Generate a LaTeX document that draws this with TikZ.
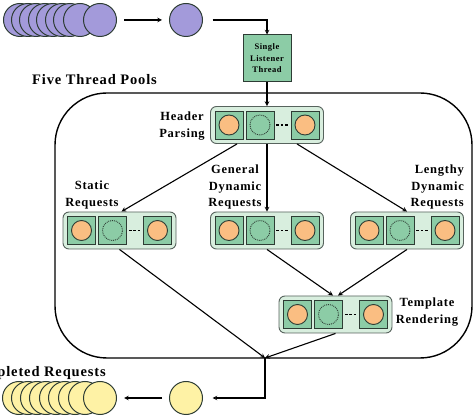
\documentclass[tikz,border=0pt]{standalone}
\usepackage{fontspec}
\setmainfont{Liberation Serif}
\usepackage{tikz}
\usetikzlibrary{positioning}

\definecolor{jobpurple}{RGB}{163,154,218}
\definecolor{doneyellow}{RGB}{254,242,165}
\definecolor{busyorange}{RGB}{250,190,130}
\definecolor{slotgreen}{RGB}{140,204,166}
\definecolor{poolgreen}{RGB}{216,238,222}
\definecolor{edgedark}{RGB}{45,60,52}

\newcommand{\titlefont}{\bfseries\addfontfeature{LetterSpace=6}\fontsize{14.5}{18}\selectfont}
\newcommand{\poolfont}{\bfseries\addfontfeature{LetterSpace=6}\fontsize{12.5}{16.5}\selectfont}
\newcommand{\tinyfont}{\bfseries\addfontfeature{LetterSpace=6}\fontsize{8.5}{11.5}\selectfont}

\tikzset{
  job/.style={circle, draw=edgedark, line width=1pt, fill=jobpurple, minimum size=33pt, inner sep=0pt},
  done/.style={job, fill=doneyellow},
  poolbox/.style={draw=edgedark!80, line width=0.9pt, fill=poolgreen, rounded corners=6pt, minimum width=113pt, minimum height=37pt, inner sep=0pt},
  slot/.style={draw=edgedark, line width=0.9pt, fill=slotgreen, minimum size=28pt, inner sep=0pt},
  busy/.style={circle, draw=edgedark, line width=0.9pt, fill=busyorange, minimum size=20pt, inner sep=0pt},
  idle/.style={circle, draw=edgedark, densely dotted, line width=0.9pt, minimum size=20pt, inner sep=0pt},
  listenerbox/.style={draw=edgedark, line width=1pt, fill=slotgreen, minimum width=48pt, minimum height=47pt, inner sep=0pt, align=center, font=\tinyfont},
  lbl/.style={font=\poolfont, align=center, inner sep=0pt},
  flow/.style={line width=1.1pt, -stealth},
  gap/.style={shorten >=7pt, shorten <=7pt},
  frame/.style={line width=1.4pt, rounded corners=52pt}
}

\newcommand{\pool}[2]{%
  \begin{scope}[shift={(#2)}]
    \node[poolbox] (#1) at (0,0) {};
    \node[slot] (#1-a) at (-38,0) {};
    \node[slot] (#1-b) at (-7,0) {};
    \node[slot] (#1-c) at (38,0) {};
    \node[busy] (#1-ta) at (#1-a) {};
    \node[idle] (#1-tb) at (#1-b) {};
    \node[busy] (#1-tc) at (#1-c) {};
    \draw[line width=1.1pt, dash pattern=on 2.6pt off 1.8pt] ([xshift=2pt]#1-b.east) -- ([xshift=-2pt]#1-c.west);
  \end{scope}}

\begin{document}
\begin{tikzpicture}[x=1pt, y=-1pt]
  \useasboundingbox (0,0) rectangle (474,419);

  % incoming requests
  \foreach \x [count=\i] in {20,28,36,45,53,62,70,80,100}
    \node[job] (in\i) at (\x,20) {};
  \node[job] (req) at (186,20) {};
  \node[listenerbox] (listener) at (267,58.5) {Single\\Listener\\Thread};

  % the thread pools
  \draw[frame] (55,93) rectangle (472,358);
  \node[font=\titlefont, inner sep=0pt, anchor=west] (title) at (32,80) {Five Thread Pools};
  \coordinate (merge) at (265,358);

  \pool{hp}{267,125}
  \pool{sr}{119.5,230.5}
  \pool{gd}{267,230.5}
  \pool{ld}{407,230.5}
  \pool{tr}{335.5,314.5}

  \node[lbl] (hplabel) at (182,126) {Header\\Parsing};
  \node[lbl] (srlabel) at (92,195) {Static\\Requests};
  \node[lbl] (gdlabel) at (235,187) {General\\Dynamic\\Requests};
  \node[lbl, align=right, anchor=east] (ldlabel) at (464,187) {Lengthy\\Dynamic\\Requests};
  \node[lbl] (trlabel) at (427,312) {Template\\Rendering};

  % completed requests
  \node[done] (out) at (186,398) {};
  \foreach \x [count=\i] in {19,28,37,46,56,65,75,85,100}
    \node[done] (out\i) at (\x,398) {};
  \node[font=\titlefont, inner sep=0pt, anchor=east] (outlabel) at (106,373) {Completed Requests};

  % connectors
  \draw[flow, gap] (in9) -- (req);
  \draw[flow] ([xshift=9.5pt]req.east) -| (listener.north);
  \draw[flow] (listener) -- (hp);
  \draw[flow] ([xshift=-30pt]hp.south) -- ([xshift=2pt]sr.north);
  \draw[flow] (hp) -- (gd);
  \draw[flow] ([xshift=30pt]hp.south) -- (ld.north);
  \draw[flow] (gd.south) -- ([xshift=-2.5pt]tr.north);
  \draw[flow] (ld.south) -- ([xshift=2.5pt]tr.north);
  \draw[flow] (sr.south) -- (merge);
  \draw[flow] (tr.south) -- (merge);
  \draw[flow] (merge) |- ([xshift=9.5pt]out.east);
  \draw[flow, gap] (out) -- (out9);
\end{tikzpicture}
\end{document}
